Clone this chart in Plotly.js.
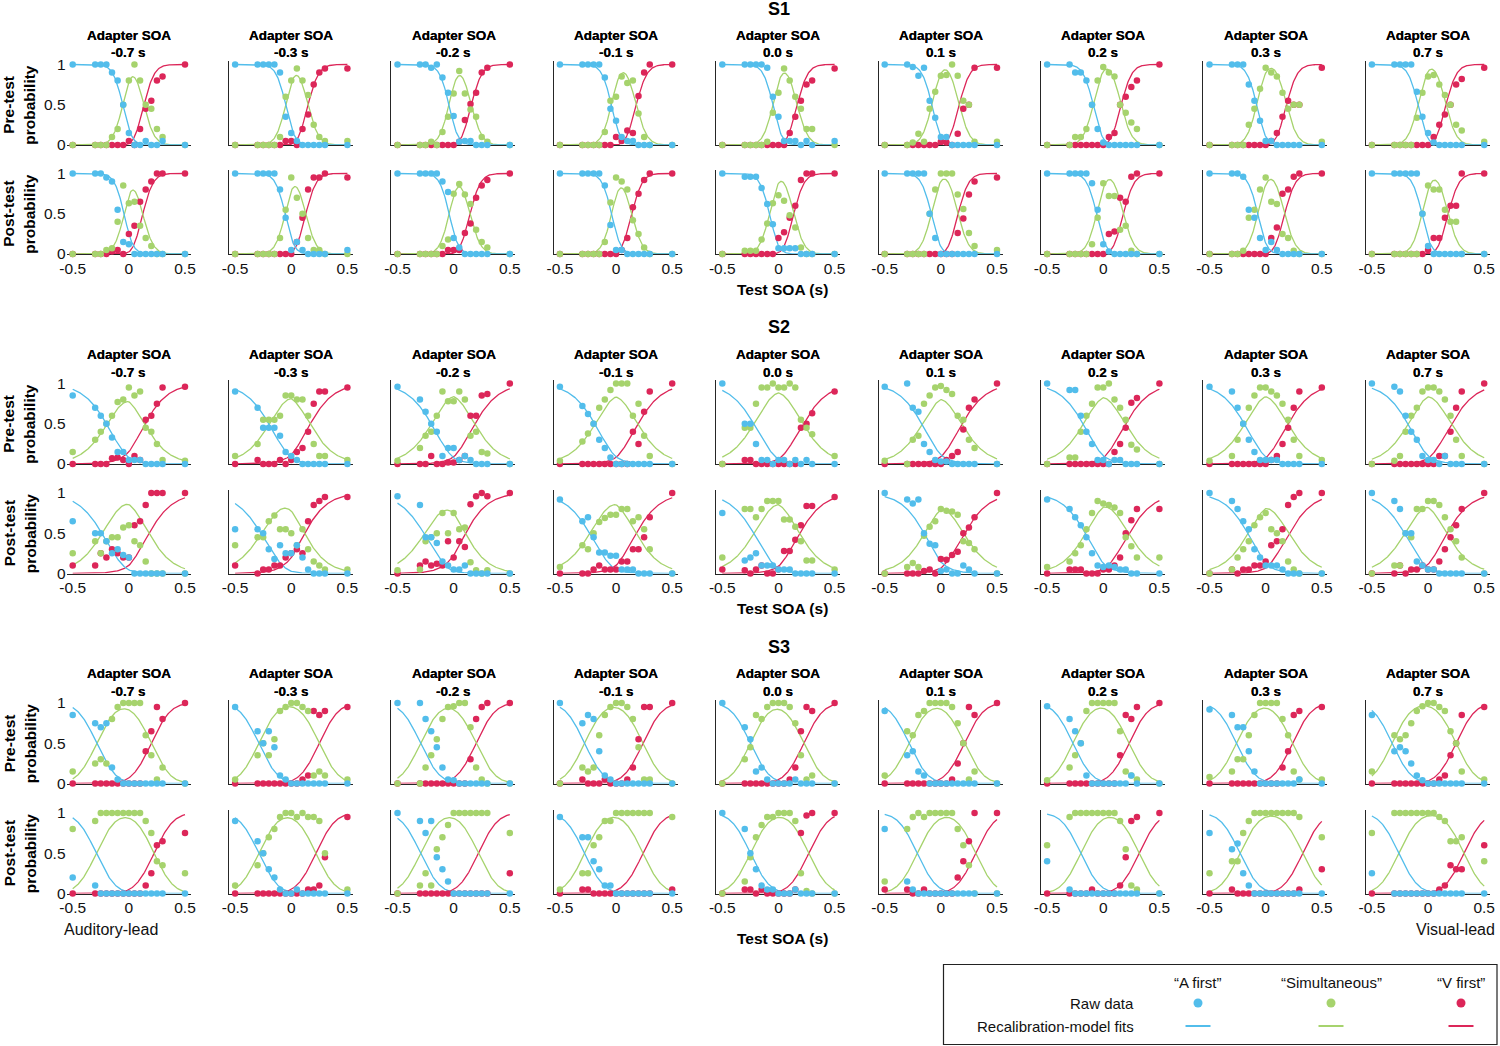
<!DOCTYPE html>
<html><head><meta charset="utf-8">
<script src="https://cdn.plot.ly/plotly-3.0.1.min.js"></script>
<style>html,body{margin:0;padding:0;background:#fff}#chart{width:1500px;height:1046px}</style>
</head><body><div id="chart"></div>
<script>
// ---------------- DATA ----------------
const testSOA = [-0.5,-0.3,-0.25,-0.2,-0.15,-0.1,-0.05,0,0.05,0.1,0.15,0.2,0.25,0.3,0.5];
const adapterLabels = ['-0.7 s','-0.3 s','-0.2 s','-0.1 s','0.0 s','0.1 s','0.2 s','0.3 s','0.7 s'];
const subjectNames = ['S1','S2','S3'];
const xTickVals = [-0.5,0,0.5];
const xTickText = ['-0.5','0','0.5'];
const yTickVals = [0,0.5,1];
const yTickText = ['0','0.5','1'];

// S1 pre-test
const s1PreA = [
 [1,1,1,1,0.9,0.8,0.5,0.15,0,0,0.05,0,0,0.05,0],
 [1,1,1,1,1,0.9,0.35,0.15,0.05,0,0,0,0,0,0],
 [1,1,1,0.96,1,0.84,0.65,0.36,0.04,0.05,0.05,0,0,0,0],
 [1,1,1,1,1,0.84,0.45,0.3,0.1,0.05,0.05,0,0,0,0],
 [1,1,1,1,1,0.96,0.6,0.35,0.05,0.05,0.05,0,0.05,0,0.05],
 [1,1,0.97,0.86,0.96,0.55,0.34,0.1,0.1,0,0,0,0,0,0],
 [1,1,0.9,0.9,0.8,0.5,0.2,0.03,0,0,0,0,0,0,0],
 [1,1,1,1,0.75,0.55,0.3,0.05,0.05,0,0,0,0,0,0],
 [1,1,1,1,1,0.66,0.35,0.15,0.03,0,0,0,0,0,0]];
const s1PreS = [
 [0,0,0,0,0.1,0.2,0.5,0.8,1,0.8,0.5,0.45,0.2,0.1,0],
 [0,0,0,0,0,0.1,0.6,0.8,0.95,0.8,0.62,0.25,0.1,0.05,0.05],
 [0,0,0,0.04,0,0.16,0.35,0.64,0.92,0.64,0.44,0.35,0.1,0.04,0],
 [0,0,0,0,0,0.16,0.55,0.6,0.85,0.77,0.8,0.39,0.1,0,0],
 [0,0,0,0,0,0.04,0.4,0.65,0.95,0.8,0.6,0.45,0.2,0.2,0],
 [0,0,0.03,0.14,0.04,0.45,0.66,0.86,0.87,1,0.86,0.55,0.5,0.04,0.04],
 [0,0,0.1,0.1,0.2,0.5,0.8,0.97,0.9,0.85,0.5,0.4,0.28,0.2,0],
 [0,0,0,0,0.25,0.45,0.7,0.96,0.9,0.85,0.65,0.45,0.5,0.5,0.04],
 [0,0,0,0,0,0.34,0.65,0.85,0.87,0.75,0.62,0.5,0.25,0.18,0.04]];
const s1PreV = [
 [0,0,0,0,0,0,0,0.05,0,0.2,0.45,0.55,0.8,0.85,1],
 [0,0,0,0,0,0,0.05,0.05,0,0.2,0.38,0.75,0.9,0.95,0.95],
 [0,0,0,0,0,0,0,0,0.04,0.31,0.51,0.65,0.9,0.96,1],
 [0,0,0,0,0,0,0,0.1,0.05,0.18,0.15,0.61,0.9,1,1],
 [0,0,0,0,0,0,0,0,0,0.15,0.35,0.55,0.75,0.8,0.95],
 [0,0,0,0,0,0,0,0.04,0.03,0,0.14,0.45,0.5,0.96,0.96],
 [0,0,0,0,0,0,0,0,0.1,0.15,0.5,0.6,0.72,0.8,1],
 [0,0,0,0,0,0,0,0,0.05,0.15,0.35,0.55,0.5,0.5,0.96],
 [0,0,0,0,0,0,0,0,0.1,0.25,0.38,0.5,0.75,0.82,0.96]];
// S1 post-test
const s1PostA = [
 [1,1,1,0.95,0.9,0.55,0.15,0.12,0,0,0,0,0,0,0],
 [1,1,1,1,1,0.8,0.45,0.05,0.15,0.05,0,0,0,0,0.05],
 [1,1,1,1,1,0.9,0.77,0.2,0.08,0,0,0,0,0,0],
 [1,1,1,1,1,0.85,0.36,0.05,0.05,0,0,0,0,0,0],
 [1,0.96,0.96,0.96,0.82,0.62,0.37,0.07,0.07,0.07,0.07,0,0,0,0],
 [1,1,1,1,1,0.5,0.2,0,0,0,0,0,0,0,0],
 [1,1,1,1,1,0.88,0.55,0.12,0.03,0,0,0,0,0,0],
 [1,1,1,0.96,0.55,0.45,0.2,0.05,0.15,0.05,0,0,0,0,0],
 [1,1,1,1,1,1,0.5,0.1,0,0,0,0,0,0,0]];
const s1PostS = [
 [0,0,0,0.05,0.07,0.4,0.85,0.63,0.65,0.35,0.2,0.1,0,0,0],
 [0,0,0,0,0,0.2,0.55,0.95,0.7,0.5,0.2,0.05,0.05,0,0],
 [0,0,0,0,0,0.1,0.18,0.75,0.87,0.74,0.62,0.3,0.15,0.08,0],
 [0,0,0,0,0,0.15,0.64,0.95,0.9,0.8,0.42,0.25,0.08,0,0],
 [0,0.04,0.04,0.04,0.18,0.38,0.63,0.73,0.66,0.48,0.33,0.08,0,0,0],
 [0,0,0,0,0,0.5,0.8,1,1,1,0.74,0.56,0.26,0.1,0.05],
 [0,0,0,0,0,0.12,0.45,0.88,0.72,0.72,0.3,0.35,0.04,0,0],
 [0,0,0,0.04,0.45,0.55,0.8,0.95,0.65,0.62,0.25,0.2,0.04,0,0],
 [0,0,0,0,0,0,0.5,0.85,0.8,0.8,0.55,0.4,0.4,0,0]];
const s1PostV = [
 [0,0,0,0,0.03,0.05,0,0.25,0.35,0.65,0.8,0.9,1,1,1],
 [0,0,0,0,0,0,0,0,0.15,0.45,0.8,0.95,0.95,1,0.95],
 [0,0,0,0,0,0,0.05,0.05,0.05,0.26,0.38,0.7,0.85,0.92,1],
 [0,0,0,0,0,0,0,0,0.05,0.2,0.58,0.75,0.92,1,1],
 [0,0,0,0,0,0,0,0.2,0.27,0.45,0.6,0.92,1,1,1],
 [0,0,0,0,0,0,0,0,0,0,0.26,0.44,0.74,0.9,0.95],
 [0,0,0,0,0,0,0,0,0.25,0.28,0.7,0.65,0.96,1,1],
 [0,0,0,0,0,0,0,0,0.2,0.33,0.75,0.8,0.96,1,1],
 [0,0,0,0,0,0,0,0.05,0.2,0.2,0.45,0.6,0.6,1,1]];
// S2 pre-test
const s2PreA = [
 [0.85,0.7,0.6,0.5,0.33,0.15,0.15,0.05,0.05,0.05,0,0,0,0,0],
 [0.9,0.7,0.45,0.45,0.45,0.35,0.15,0.1,0.05,0,0,0,0,0,0],
 [0.96,0.8,0.65,0.5,0.4,0.1,0.2,0.2,0.05,0.1,0.05,0,0,0,0],
 [0.96,0.72,0.62,0.5,0.3,0.2,0.08,0,0,0,0,0,0,0,0],
 [1,0.5,0.5,0.25,0.05,0.05,0,0.05,0.05,0,0.05,0,0.05,0,0],
 [0.96,1,0.7,0.65,0.25,0.15,0.05,0.03,0.03,0,0,0,0,0,0],
 [1,0.92,0.92,0.6,0.4,0.25,0.05,0.05,0,0.05,0.05,0,0,0,0],
 [0.96,0.9,0.7,0.5,0.3,0.15,0.05,0.05,0.05,0.05,0,0,0,0,0],
 [1,0.96,0.9,0.6,0.4,0.3,0.1,0.05,0.05,0,0.1,0,0,0,0]];
const s2PreS = [
 [0.15,0.3,0.4,0.5,0.6,0.77,0.8,0.95,0.85,0.9,0.45,0.4,0.25,0.05,0.04],
 [0.1,0.25,0.55,0.55,0.55,0.6,0.85,0.85,0.8,0.8,0.6,0.25,0.1,0.1,0.05],
 [0.04,0.2,0.35,0.4,0.6,0.9,0.78,0.78,0.9,0.8,0.35,0.4,0.15,0.13,0],
 [0.04,0.28,0.38,0.5,0.7,0.8,0.92,1,1,1,0.6,0.75,0.35,0.1,0],
 [0,0.45,0.45,0.75,0.95,0.95,1,0.95,0.95,1,0.95,0.55,0.45,0.37,0.1],
 [0.04,0,0.3,0.35,0.75,0.85,0.95,0.97,0.92,0.87,0.6,0.55,0.3,0.2,0],
 [0,0.08,0.08,0.4,0.6,0.75,0.95,0.95,1,0.8,0.7,0.55,0.24,0.18,0],
 [0.04,0.1,0.3,0.5,0.7,0.85,0.95,0.95,0.9,0.85,0.75,0.55,0.3,0.1,0.05],
 [0,0.04,0.1,0.4,0.6,0.7,0.9,0.95,0.95,0.9,0.8,0.6,0.3,0.1,0]];
const s2PreV = [
 [0,0,0,0,0.07,0.08,0.05,0,0.1,0.05,0.55,0.6,0.75,0.95,0.96],
 [0,0.05,0,0,0,0.05,0,0.05,0.15,0.2,0.4,0.75,0.9,0.9,0.95],
 [0,0,0,0.1,0,0,0.02,0.02,0.05,0.1,0.6,0.6,0.85,0.87,1],
 [0,0,0,0,0,0,0,0,0,0,0.4,0.25,0.65,0.9,1],
 [0,0.05,0.05,0,0,0,0,0,0,0,0,0.45,0.5,0.63,0.9],
 [0,0,0,0,0,0,0,0,0.05,0.1,0.15,0.43,0.7,0.8,1],
 [0,0,0,0,0,0,0,0,0,0.15,0.25,0.45,0.76,0.82,1],
 [0,0,0,0,0,0,0,0,0.05,0.1,0.25,0.45,0.7,0.9,0.95],
 [0,0,0,0,0,0,0,0,0,0.1,0.1,0.4,0.7,0.9,1]];
// S2 post-test
const s2PostA = [
 [0.65,0.5,0.5,0.4,0.25,0.3,0.23,0.2,0,0,0,0,0,0,0],
 [0.55,0.55,0.5,0.3,0.18,0.35,0.25,0.25,0.35,0.2,0.05,0,0,0,0],
 [0.96,0.85,0.45,0.45,0.38,0.15,0.1,0.05,0.05,0.1,0,0,0,0,0],
 [0.92,0.65,0.7,0.45,0.26,0.26,0.22,0.22,0.05,0.05,0.05,0,0,0,0],
 [0.75,0.16,0.2,0.25,0.1,0.1,0.1,0.05,0.05,0.05,0,0,0,0,0],
 [1,0.92,0.87,0.92,0.5,0.37,0.35,0.03,0.05,0,0,0.1,0.05,0,0],
 [0.92,0.8,0.7,0.6,0.45,0.25,0.1,0.08,0.1,0.08,0.05,0.05,0,0,0],
 [1,0.9,0.8,0.65,0.55,0.3,0.2,0.1,0.1,0.1,0.05,0,0,0,0],
 [1,0.9,0.8,0.5,0.5,0.15,0.1,0.05,0.05,0,0,0,0,0,0]];
const s2PostS = [
 [0.25,0.4,0.25,0.4,0.45,0.45,0.57,0.6,0.4,0.35,0.15,0,0,0,0],
 [0.35,0.45,0.45,0.65,0.72,0.55,0.55,0.5,0.35,0.55,0.3,0.15,0.1,0.05,0.05],
 [0.04,0.05,0.4,0.45,0.5,0.75,0.5,0.75,0.55,0.57,0.14,0.04,0,0.04,0],
 [0.08,0.35,0.3,0.5,0.64,0.69,0.73,0.73,0.8,0.8,0.65,0.7,0.55,0.3,0],
 [0.2,0.8,0.8,0.7,0.8,0.9,0.9,0.9,0.67,0.67,0.58,0.4,0.16,0.16,0.05],
 [0,0.08,0.13,0.08,0.47,0.58,0.65,0.8,0.78,0.77,0.73,0.4,0.38,0.3,0],
 [0.08,0.15,0.25,0.35,0.55,0.75,0.9,0.87,0.85,0.82,0.75,0.45,0.34,0.2,0.2],
 [0,0.05,0.2,0.3,0.4,0.6,0.7,0.75,0.55,0.5,0.4,0.15,0.05,0,0],
 [0,0.1,0.1,0.5,0.45,0.8,0.8,0.9,0.9,0.85,0.7,0.55,0.4,0.2,0]];
const s2PostV = [
 [0.1,0.1,0.25,0.2,0.3,0.25,0.2,0.2,0.6,0.65,0.85,1,1,1,1],
 [0.1,0,0.05,0.05,0.1,0.1,0.2,0.25,0.3,0.25,0.65,0.85,0.9,0.95,0.95],
 [0,0.1,0.15,0.1,0.12,0.1,0.4,0.2,0.4,0.33,0.86,0.96,1,0.96,1],
 [0,0,0,0.05,0.1,0.05,0.05,0.05,0.15,0.15,0.3,0.3,0.45,0.7,1],
 [0.05,0.04,0,0.05,0.1,0,0,0.05,0.28,0.28,0.42,0.6,0.84,0.84,0.95],
 [0,0,0,0,0.03,0.05,0,0.18,0.17,0.23,0.27,0.5,0.57,0.7,1],
 [0,0.05,0.05,0.05,0,0,0,0.05,0.05,0.1,0.2,0.5,0.66,0.8,0.8],
 [0,0.05,0,0.05,0.05,0.1,0.1,0.15,0.35,0.4,0.55,0.85,0.95,1,1],
 [0,0,0.1,0,0.05,0.05,0.1,0.05,0.05,0.15,0.3,0.45,0.6,0.8,1]];
// S3 pre-test
const s3PreA = [
 [0.85,0.75,0.7,0.75,0.2,0.05,0,0,0,0,0,0,0,0,0],
 [0.95,0.65,0.5,0.65,0.45,0.1,0.05,0,0,0,0,0,0,0,0],
 [1,1,0.8,0.65,0.45,0.2,0.05,0.04,0,0,0,0,0,0,0],
 [1,0.75,0.85,0.8,0.4,0.1,0.05,0,0,0,0,0,0,0,0],
 [1,0.7,0.55,0.15,0.2,0.05,0,0,0,0,0.05,0,0,0,0],
 [0.9,0.35,0.4,0.15,0.1,0,0,0,0,0,0,0,0,0,0],
 [0.96,0.8,0.65,0.5,0.1,0,0,0,0,0,0,0,0.1,0,0],
 [0.92,0.85,0.7,0.7,0.4,0.15,0,0,0,0,0,0,0,0.05,0],
 [0.85,0.4,0.45,0.4,0.25,0.1,0.04,0,0,0,0,0,0,0,0]];
const s3PreS = [
 [0.15,0.25,0.3,0.25,0.8,0.95,1,1,1,1,0.6,0.35,0.05,0.2,0],
 [0.05,0.35,0.5,0.35,0.55,0.9,0.95,1,1,0.95,0.9,0.1,0.15,0.1,0.05],
 [0,0,0.2,0.35,0.55,0.8,0.95,0.96,1,1,0.7,0.2,0.05,0,0],
 [0,0.2,0.15,0.2,0.6,0.85,0.95,1,1,0.95,0.8,0.45,0.05,0.05,0],
 [0,0.3,0.45,0.85,0.8,0.95,1,1,1,0.95,0.75,0.35,0.05,0.1,0],
 [0.1,0.65,0.6,0.85,0.9,1,1,1,1,0.95,0.75,0.5,0.05,0.15,0],
 [0.04,0.2,0.35,0.5,0.9,1,1,1,1,1,0.65,0.15,0.1,0.05,0],
 [0.08,0.15,0.3,0.3,0.6,0.85,1,1,1,1,0.8,0.6,0.15,0.05,0.05],
 [0.15,0.6,0.55,0.6,0.75,0.9,0.96,1,1,0.95,0.9,0.65,0.5,0.15,0.05]];
const s3PreV = [
 [0,0,0,0,0,0,0,0,0,0,0.4,0.65,0.95,0.8,1],
 [0,0,0,0,0,0,0,0,0,0.05,0.1,0.9,0.85,0.9,0.95],
 [0,0,0,0,0,0,0,0,0,0,0.3,0.8,0.95,1,1],
 [0,0.05,0,0,0,0.05,0,0,0,0.05,0.2,0.55,0.95,0.95,1],
 [0,0,0,0,0,0,0,0,0,0.05,0.2,0.65,0.95,0.9,1],
 [0,0,0,0,0,0,0,0,0,0.05,0.25,0.5,0.95,0.85,1],
 [0,0,0,0,0,0,0,0,0,0,0.35,0.85,0.8,0.95,1],
 [0,0,0,0,0,0,0,0,0,0,0.2,0.4,0.85,0.9,0.95],
 [0,0,0,0,0,0,0,0,0,0.05,0.1,0.35,0.5,0.85,0.95]];
// S3 post-test
const s3PostA = [
 [0.2,0.1,0,0,0,0,0,0,0,0,0,0,0,0,0],
 [0.9,0.65,0.5,0.3,0.2,0.05,0,0,0.05,0,0,0,0,0,0],
 [1,0.9,0.75,0.9,0.45,0.3,0.15,0,0,0,0,0,0,0,0],
 [0.95,0.7,0.7,0.4,0.3,0.1,0.1,0,0,0,0,0,0,0,0],
 [1,0.8,0.5,0.3,0.1,0.05,0.05,0,0,0,0.05,0,0,0,0],
 [0.8,0.15,0.05,0,0,0,0,0,0,0,0,0,0,0,0],
 [0.4,0.05,0,0,0,0,0,0,0,0,0,0,0,0,0],
 [0.75,0.55,0.62,0.25,0.1,0,0,0,0,0,0,0,0,0,0],
 [0.25,0,0,0,0,0,0,0,0,0,0,0,0,0,0]];
const s3PostS = [
 [0.8,0.9,1,1,1,1,1,1,1,1,0.9,0.75,0.4,0.35,0.25],
 [0.1,0.35,0.5,0.7,0.8,0.95,1,1,0.95,1,0.95,0.95,0.9,0.5,0.05],
 [0,0.1,0.25,0.1,0.55,0.7,0.85,1,1,1,1,1,1,1,0.75],
 [0.05,0.25,0.25,0.6,0.7,0.9,0.9,1,1,1,1,1,1,1,0.95],
 [0,0.15,0.45,0.7,0.85,0.95,0.95,1,1,1,0.9,0.25,0.03,0,0],
 [0.15,0.8,0.95,1,0.95,1,1,1,1,1,0.8,0.6,0.35,0,0],
 [0.6,0.95,1,1,1,1,1,1,1,1,0.9,0.55,0.1,0.05,0],
 [0.25,0.4,0.4,0.75,0.9,1,1,1,1,1,1,1,1,0.95,0.7],
 [0.75,1,1,1,1,1,1,1,1,0.95,0.9,0.65,0.65,0.7,0.4]];
const s3PostV = [
 [0,0,0,0,0,0,0,0,0,0,0.1,0.25,0.6,0.65,0.75],
 [0,0,0,0,0,0,0,0,0,0,0.05,0.05,0.1,0.45,0.95],
 [0,0,0,0,0,0,0,0,0,0,0,0,0,0,0.25],
 [0,0.05,0.05,0,0,0,0,0,0,0,0,0,0,0,0.05],
 [0,0.05,0.05,0,0.05,0,0,0,0,0,0.05,0.75,0.97,1,1],
 [0.05,0.05,0,0,0.05,0,0,0,0,0,0.2,0.4,0.65,1,1],
 [0,0,0,0,0,0.05,0,0,0,0,0.1,0.45,0.9,0.95,1],
 [0,0.05,0,0,0,0,0,0,0,0,0,0,0,0.05,0.3],
 [0,0,0,0,0,0,0,0,0,0.05,0.1,0.35,0.3,0.3,0.6]];

// Recalibration-model fit parameters (criterion locations, s)
const s1PreLow  = [-0.055,-0.05,-0.042,-0.042,-0.05,-0.08,-0.09,-0.08,-0.09];
const s1PreHigh = [0.135,0.15,0.158,0.18,0.167,0.164,0.16,0.186,0.16];
const s1PostLow  = [-0.043,-0.055,-0.04,-0.04,-0.08,-0.086,-0.06,-0.07,-0.055];
const s1PostHigh = [0.125,0.13,0.146,0.14,0.137,0.154,0.18,0.17,0.18];
const s2PreLow  = [-0.2,-0.2,-0.2,-0.19,-0.22,-0.17,-0.18,-0.19,-0.18];
const s2PreHigh = [0.145,0.17,0.19,0.196,0.22,0.19,0.2,0.2,0.21];
const s2PostLow  = [-0.24,-0.27,-0.265,-0.235,-0.22,-0.15,-0.16,-0.16,-0.21];
const s2PostHigh = [0.18,0.12,0.107,0.18,0.19,0.21,0.23,0.21,0.17];
const s3PreLow  = [-0.286,-0.29,-0.295,-0.28,-0.25,-0.285,-0.27,-0.26,-0.32];
const s3PreHigh = [0.2,0.25,0.2,0.24,0.226,0.21,0.23,0.24,0.25];
const s3PostLow  = [-0.29,-0.29,-0.295,-0.28,-0.25,-0.21,-0.2,-0.23,-0.26];
const s3PostHigh = [0.225,0.22,0.22,0.24,0.27,0.31,0.32,0.33,0.32];
const noiseBase  = [0.064,0.14,0.135];   // per subject
const noiseSlope = [0.06,0.13,0.0];      // per subject

// ---------------- BUILD ----------------
const subjects = [
 {pre:{A:s1PreA,S:s1PreS,V:s1PreV,lo:s1PreLow,hi:s1PreHigh}, post:{A:s1PostA,S:s1PostS,V:s1PostV,lo:s1PostLow,hi:s1PostHigh}},
 {pre:{A:s2PreA,S:s2PreS,V:s2PreV,lo:s2PreLow,hi:s2PreHigh}, post:{A:s2PostA,S:s2PostS,V:s2PostV,lo:s2PostLow,hi:s2PostHigh}},
 {pre:{A:s3PreA,S:s3PreS,V:s3PreV,lo:s3PreLow,hi:s3PreHigh}, post:{A:s3PostA,S:s3PostS,V:s3PostV,lo:s3PostLow,hi:s3PostHigh}}
];

function erf(x){const s=Math.sign(x);x=Math.abs(x);const t=1/(1+0.3275911*x);
 const y=1-(((((1.061405429*t-1.453152027)*t)+1.421413741)*t-0.284496736)*t+0.254829592)*t*Math.exp(-x*x);return s*y;}
function Phi(z){return 0.5*(1+erf(z/Math.SQRT2));}

const W=1500,H=1046;
const COL_X0=72.7, COL_DX=162.4, UNIT=112.3;
const ROW_Y1=[[64.5,173.5],[383.5,493],[703,813]];
const ROW_H=80.5;
const XR=[-0.555,0.55], YR=[0,1.04];
const blue='#52BDEB', green='#A6D36D', red='#DC2659';
const FONT='Liberation Sans, Arial, Helvetica, sans-serif';
const px=x=>x/W, py=y=>1-y/H;

const curveX=[]; for(let i=0;i<=200;i++) curveX.push(-0.5+i*0.005);

const traces=[]; const layout={
 width:W,height:H,margin:{l:0,r:0,t:0,b:0},paper_bgcolor:'#fff',plot_bgcolor:'rgba(0,0,0,0)',
 showlegend:false,font:{family:FONT,color:'#000'},annotations:[],shapes:[]};

for(let s=0;s<3;s++){
 const phases=['pre','post'];
 for(let r=0;r<2;r++){
  const d=subjects[s][phases[r]];
  for(let c=0;c<9;c++){
   const n=s*18+r*9+c+1;
   const xa='x'+(n===1?'':n), ya='y'+(n===1?'':n);
   const x0=COL_X0+COL_DX*c;
   const y1=ROW_Y1[s][r];
   layout['xaxis'+(n===1?'':n)]={domain:[px(x0+XR[0]*UNIT+0.5*UNIT),px(x0+XR[1]*UNIT+0.5*UNIT)],range:XR,anchor:ya,
     showline:true,linecolor:'#262626',linewidth:1,showgrid:false,zeroline:false,ticks:'',
     tickmode:'array',tickvals:xTickVals,ticktext:xTickText,showticklabels:r===1,
     tickfont:{size:15.5,family:FONT,color:'#111'},fixedrange:true,layer:'below traces'};
   layout['yaxis'+(n===1?'':n)]={domain:[py(y1+ROW_H),py(y1-(YR[1]-1)*ROW_H)],range:YR,anchor:xa,
     showline:c!==0,linecolor:'#262626',linewidth:1,showgrid:false,zeroline:false,ticks:'',
     tickmode:'array',tickvals:yTickVals,ticktext:yTickText,showticklabels:c===0,
     tickfont:{size:15.5,family:FONT,color:'#111'},fixedrange:true,layer:'below traces'};
   // fitted curves
   const lo=d.lo[c], hi=d.hi[c], b0=noiseBase[s], k=noiseSlope[s];
   const fa=[],fs=[],fv=[];
   curveX.forEach(x=>{const sg=b0+k*Math.abs(x);const a=Phi((lo-x)/sg),v=Phi((x-hi)/sg);
     fa.push(a);fv.push(v);fs.push(Math.max(0,1-a-v));});
   [[fv,red],[fs,green],[fa,blue]].forEach(([yy,col])=>traces.push({type:'scatter',mode:'lines',x:curveX,y:yy,
     xaxis:xa,yaxis:ya,line:{color:col,width:1.3},hoverinfo:'skip',cliponaxis:false}));
   // raw data
   [[d.V[c],red],[d.S[c],green],[d.A[c],blue]].forEach(([yy,col])=>traces.push({type:'scatter',mode:'markers',x:testSOA,y:yy,
     xaxis:xa,yaxis:ya,marker:{color:col,size:6.5,line:{width:0}},hoverinfo:'skip',cliponaxis:false}));
   // panel titles
   const cx=x0+0.5*UNIT;
   const tY=[[35,53],[354.5,372.5],[673.5,691.5]][s];
   layout.annotations.push({xref:'paper',yref:'paper',x:px(cx),y:py(tY[0]),text:'<b>Adapter SOA</b>',showarrow:false,
     xanchor:'center',yanchor:'middle',font:{size:13.5,family:FONT,color:'#000'}});
   layout.annotations.push({xref:'paper',yref:'paper',x:px(cx),y:py(tY[1]),text:'<b>'+adapterLabels[c]+'</b>',showarrow:false,
     xanchor:'center',yanchor:'middle',font:{size:13.5,family:FONT,color:'#000'}});
  }
  // row labels
  const ymid=ROW_Y1[s][r]+ROW_H/2;
  layout.annotations.push({xref:'paper',yref:'paper',x:px(9),y:py(ymid),text:'<b>'+(r===0?'Pre-test':'Post-test')+'</b>',
    showarrow:false,textangle:-90,xanchor:'center',yanchor:'middle',font:{size:15.5,family:FONT,color:'#000'}});
  layout.annotations.push({xref:'paper',yref:'paper',x:px(30),y:py(ymid),text:'<b>probability</b>',
    showarrow:false,textangle:-90,xanchor:'center',yanchor:'middle',font:{size:15.5,family:FONT,color:'#000'}});
 }
 // subject title
 layout.annotations.push({xref:'paper',yref:'paper',x:px(778.5),y:py([9,327,647][s]),text:'<b>'+subjectNames[s]+'</b>',
   showarrow:false,xanchor:'center',yanchor:'middle',font:{size:18,family:FONT,color:'#000'}});
 layout.annotations.push({xref:'paper',yref:'paper',x:px(782),y:py([289.5,608,938][s]),text:'<b>Test SOA (s)</b>',
   showarrow:false,xanchor:'center',yanchor:'middle',font:{size:15.5,family:FONT,color:'#000'}});
}
layout.annotations.push({xref:'paper',yref:'paper',x:px(62),y:py(929),text:'Auditory-lead',showarrow:false,
  xanchor:'left',yanchor:'middle',font:{size:16,family:FONT,color:'#111'}});
layout.annotations.push({xref:'paper',yref:'paper',x:px(1497),y:py(929),text:'Visual-lead',showarrow:false,
  xanchor:'right',yanchor:'middle',font:{size:16,family:FONT,color:'#111'}});

// legend box
layout.shapes.push({type:'rect',xref:'paper',yref:'paper',x0:px(943.5),x1:px(1497),y0:py(1044.5),y1:py(964.5),
  line:{color:'#222',width:1.2},fillcolor:'rgba(0,0,0,0)'});
const legendNames=['\u201CA first\u201D','\u201CSimultaneous\u201D','\u201CV first\u201D'];
const legendX=[1198,1331,1461]; const legendCols=[blue,green,red];
legendNames.forEach((t,i)=>{
  layout.annotations.push({xref:'paper',yref:'paper',x:px(legendX[i]),y:py(982),text:t,showarrow:false,
    xanchor:'center',yanchor:'middle',font:{size:15,family:FONT,color:'#111'}});
  layout.shapes.push({type:'circle',xref:'paper',yref:'paper',x0:px(legendX[i]-4.5),x1:px(legendX[i]+4.5),
    y0:py(1003+4.5),y1:py(1003-4.5),fillcolor:legendCols[i],line:{width:0}});
  layout.shapes.push({type:'line',xref:'paper',yref:'paper',x0:px(legendX[i]-12.5),x1:px(legendX[i]+12.5),
    y0:py(1026),y1:py(1026),line:{color:legendCols[i],width:2}});
});
layout.annotations.push({xref:'paper',yref:'paper',x:px(1136),y:py(1003),text:'Raw data',showarrow:false,
  xanchor:'right',yanchor:'middle',font:{size:15,family:FONT,color:'#111'}});
layout.annotations.push({xref:'paper',yref:'paper',x:px(1136),y:py(1026),text:'Recalibration-model fits',showarrow:false,
  xanchor:'right',yanchor:'middle',font:{size:15,family:FONT,color:'#111'}});

Plotly.newPlot('chart',traces,layout,{displayModeBar:false,staticPlot:true});
</script></body></html>
